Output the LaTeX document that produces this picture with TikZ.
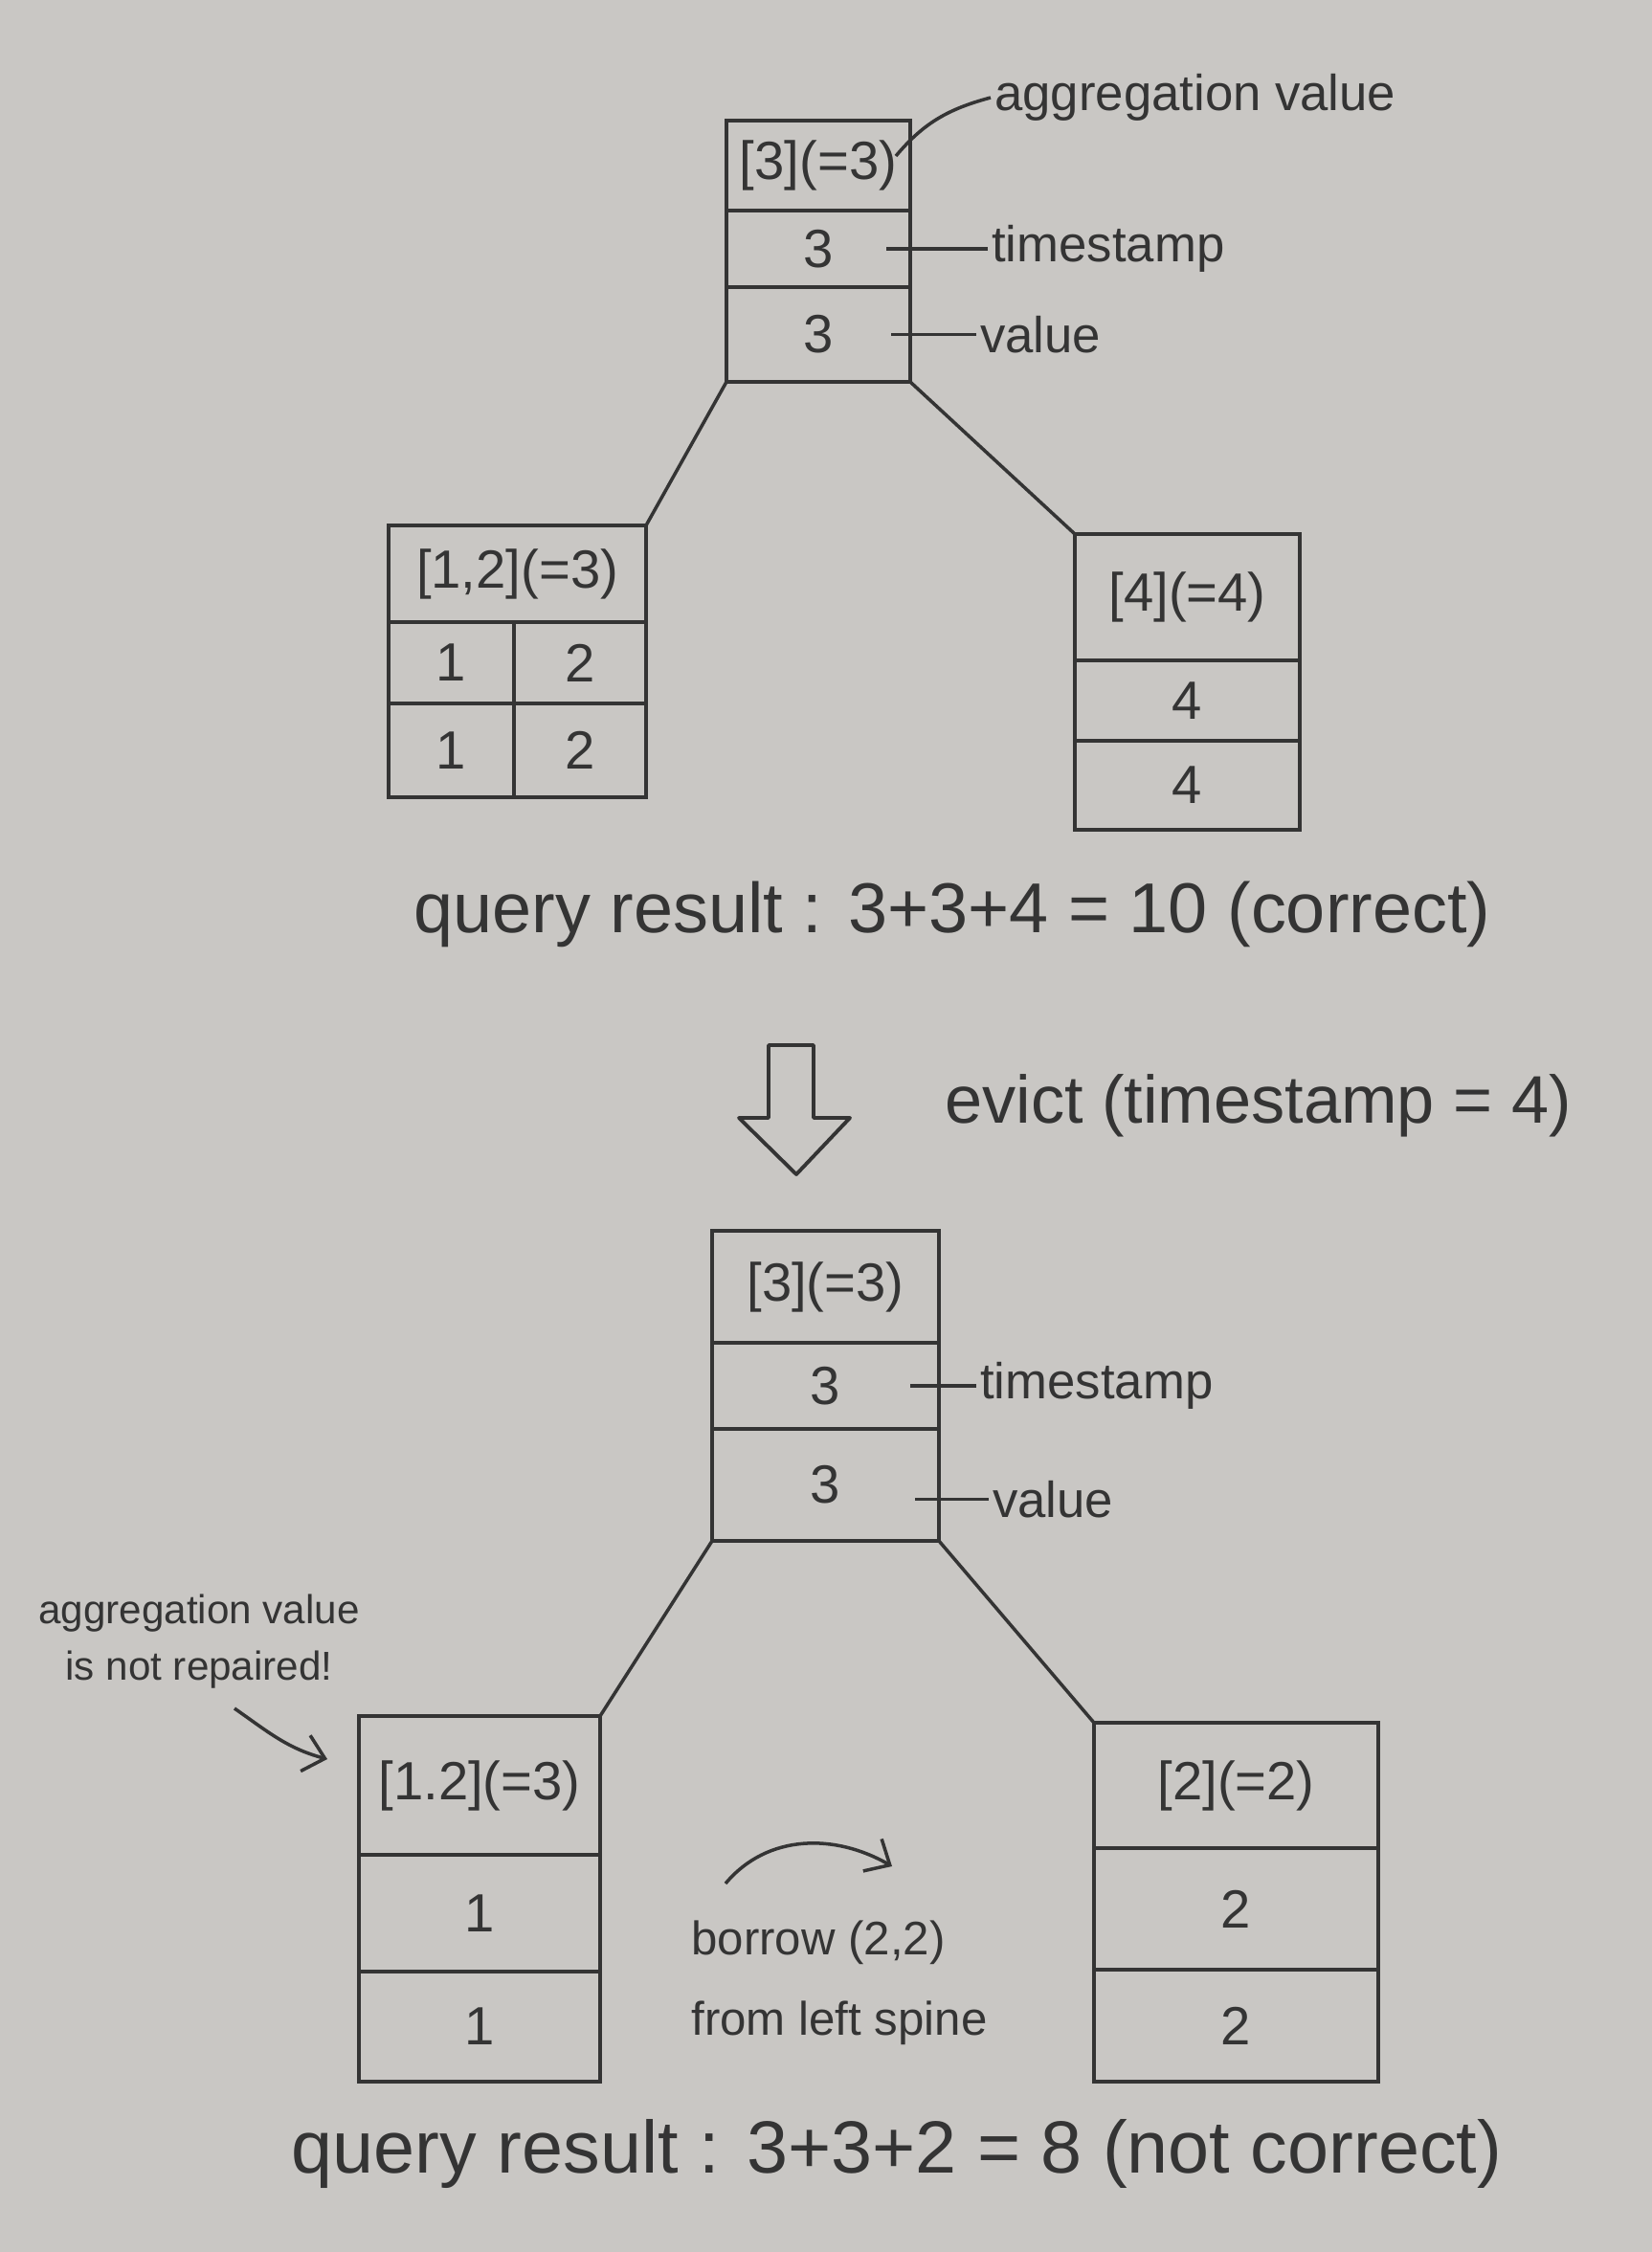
\documentclass[tikz,border=0pt]{standalone}
\usepackage{fontspec}
\setmainfont{Liberation Sans}
\usetikzlibrary{arrows.meta}
\definecolor{paper}{RGB}{201,199,196}
\definecolor{ink}{RGB}{52,52,52}
\begin{document}
\begin{tikzpicture}[
  every node/.style={text=ink},
  cell/.style={draw=ink, line width=1.1pt, inner sep=0pt, outer sep=0pt,
    anchor=north west, font=\fontsize{16}{19}\selectfont},
  note/.style={font=\fontsize{15}{18}\selectfont, inner sep=1pt, anchor=west},
  link/.style={draw=ink, line width=1pt}]
  % paper
  \useasboundingbox (0,0) rectangle (17.25,-23.53);
  \fill[paper] (-0.2,0.2) rectangle (17.45,-23.73);

  % --- before eviction ---
  \node[cell, minimum width=1.92cm, minimum height=0.94cm] (ra-hd) at (7.59,-1.26) {[3](=3)};
  \node[cell, minimum width=1.92cm, minimum height=0.80cm] (ra-ts) at (ra-hd.south west) {3};
  \node[cell, minimum width=1.92cm, minimum height=0.99cm] (ra-val) at (ra-ts.south west) {3};

  \node[cell, minimum width=2.69cm, minimum height=1.01cm] (la-hd) at (4.06,-5.49) {[1,2](=3)};
  \node[cell, minimum width=1.31cm, minimum height=0.85cm] (la-ts1) at (la-hd.south west) {1};
  \node[cell, minimum width=1.38cm, minimum height=0.85cm] (la-ts2) at (la-ts1.north east) {2};
  \node[cell, minimum width=1.31cm, minimum height=0.98cm] (la-val1) at (la-ts1.south west) {1};
  \node[cell, minimum width=1.38cm, minimum height=0.98cm] (la-val2) at (la-val1.north east) {2};

  \node[cell, minimum width=2.35cm, minimum height=1.32cm] (xa-hd) at (11.23,-5.58) {[4](=4)};
  \node[cell, minimum width=2.35cm, minimum height=0.84cm] (xa-ts) at (xa-hd.south west) {4};
  \node[cell, minimum width=2.35cm, minimum height=0.93cm] (xa-val) at (xa-ts.south west) {4};

  \draw[link] (ra-val.south west) -- (la-hd.north east);
  \draw[link] (ra-val.south east) -- (xa-hd.north west);

  \node[note] (agg-a) at (10.35,-1.02) {aggregation value};
  \node[note] (ts-a) at ([xshift=0.81cm]ra-ts.east) {timestamp};
  \node[note] (val-a) at ([xshift=0.69cm]ra-val.east) {value};
  \draw[link] ([xshift=-0.15cm,yshift=0.1cm]ra-hd.east) to[out=50,in=195] (agg-a.west);
  \draw[link] ([xshift=-0.25cm]ra-ts.east) -- (ts-a.west);
  \draw[link] ([xshift=-0.2cm]ra-val.east) -- (val-a.west);

  \node[font=\fontsize{21}{25}\selectfont] (res-a) at (9.95,-9.55) {query result : 3+3+4 = 10 (correct)};

  % --- evict step ---
  \draw[ink, line width=1.1pt, line join=round] (8.03,-10.92) -- (8.50,-10.92) -- (8.50,-11.68)
    -- (8.88,-11.68) -- (8.32,-12.27) -- (7.72,-11.68) -- (8.03,-11.68) -- cycle;
  \node[font=\fontsize{20}{24}\selectfont, anchor=west] (evict) at (9.75,-11.55) {evict (timestamp = 4)};

  % --- after eviction ---
  \node[cell, minimum width=2.37cm, minimum height=1.17cm] (rb-hd) at (7.44,-12.86) {[3](=3)};
  \node[cell, minimum width=2.37cm, minimum height=0.90cm] (rb-ts) at (rb-hd.south west) {3};
  \node[cell, minimum width=2.37cm, minimum height=1.17cm] (rb-val) at (rb-ts.south west) {3};

  \node[cell, minimum width=2.52cm, minimum height=1.45cm] (lb-hd) at (3.75,-17.93) {[1.2](=3)};
  \node[cell, minimum width=2.52cm, minimum height=1.22cm] (lb-ts) at (lb-hd.south west) {1};
  \node[cell, minimum width=2.52cm, minimum height=1.15cm] (lb-val) at (lb-ts.south west) {1};

  \node[cell, minimum width=2.97cm, minimum height=1.31cm] (xb-hd) at (11.43,-18.00) {[2](=2)};
  \node[cell, minimum width=2.97cm, minimum height=1.27cm] (xb-ts) at (xb-hd.south west) {2};
  \node[cell, minimum width=2.97cm, minimum height=1.17cm] (xb-val) at (xb-ts.south west) {2};

  \draw[link] (rb-val.south west) -- (lb-hd.north east);
  \draw[link] (rb-val.south east) -- (xb-hd.north west);

  \node[note] (ts-b) at ([xshift=0.39cm]rb-ts.east) {timestamp};
  \node[note] (val-b) at ([xshift=0.52cm,yshift=-0.15cm]rb-val.east) {value};
  \draw[link] ([xshift=-0.3cm]rb-ts.east) -- (ts-b.west);
  \draw[link] ([xshift=-0.25cm,yshift=-0.15cm]rb-val.east) -- (val-b.west);

  \node[font=\fontsize{12}{17}\selectfont, align=center] (fix) at (2.08,-17.15)
    {aggregation value\\is not repaired!};
  \coordinate (fix-end) at (3.42,-18.38);
  \draw[link, -{Straight Barb[length=6pt,width=11pt]}] (2.45,-17.85) to[out=-35,in=165] (fix-end);

  \node[font=\fontsize{14}{24}\selectfont, align=left] (borrow) at (8.77,-20.72)
    {borrow (2,2)\\from left spine};
  \coordinate (bw-a) at (7.58,-19.68);
  \coordinate (bw-b) at (9.32,-19.50);
  \draw[link, -{Straight Barb[length=6pt,width=11pt]}] (bw-a) to[out=50,in=150] (bw-b);

  \node[font=\fontsize{22}{26}\selectfont] (res-b) at (9.37,-22.50) {query result : 3+3+2 = 8 (not correct)};
\end{tikzpicture}
\end{document}
